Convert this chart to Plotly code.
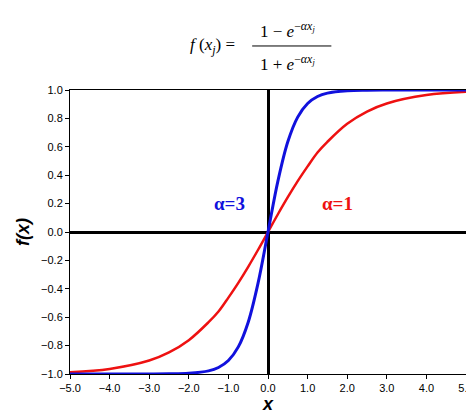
import plotly.graph_objects as go

# sample points
x_vals = [-5.0, -4.0, -3.0, -2.5, -2.0, -1.5, -1.25, -1.0, -0.75, -0.5, -0.25, 0.0,
          0.25, 0.5, 0.75, 1.0, 1.25, 1.5, 2.0, 2.5, 3.0, 4.0, 5.0]
y_alpha1 = [-0.987, -0.964, -0.905, -0.848, -0.762, -0.635, -0.56, -0.462, -0.358, -0.245, -0.125, 0.0,
            0.125, 0.245, 0.358, 0.462, 0.56, 0.635, 0.762, 0.848, 0.905, 0.964, 0.987]
y_alpha3 = [-1.0, -1.0, -1.0, -0.999, -0.995, -0.978, -0.954, -0.905, -0.809, -0.635, -0.358, 0.0,
            0.358, 0.635, 0.809, 0.905, 0.954, 0.978, 0.995, 0.999, 1.0, 1.0, 1.0]
x_ticks = [-5.0, -4.0, -3.0, -2.0, -1.0, 0.0, 1.0, 2.0, 3.0, 4.0, 5.0]
y_ticks = [-1.0, -0.8, -0.6, -0.4, -0.2, 0.0, 0.2, 0.4, 0.6, 0.8, 1.0]

fig = go.Figure()
fig.add_trace(go.Scatter(x=x_vals, y=y_alpha1, mode="lines", line=dict(color="#ee1111", width=2.5, shape="spline")))
fig.add_trace(go.Scatter(x=x_vals, y=y_alpha3, mode="lines", line=dict(color="#1111dd", width=3, shape="spline")))

axis_common = dict(showline=True, mirror=True, linecolor="black", linewidth=1, ticks="outside",
                   ticklen=4, tickcolor="black", showgrid=False, zeroline=True,
                   zerolinecolor="black", zerolinewidth=2.5,
                   tickfont=dict(family="Arial", size=11, color="black"))
fig.update_xaxes(range=[-5, 5], tickvals=x_ticks, tickformat=".1f",
                 title=dict(text="<b><i>x</i></b>", font=dict(family="Arial", size=18, color="black"), standoff=4),
                 **axis_common)
fig.update_yaxes(range=[-1, 1], tickvals=y_ticks, tickformat=".1f",
                 title=dict(text="<b><i>f(x)</i></b>", font=dict(family="Arial", size=18, color="black"), standoff=6),
                 **axis_common)

fig.add_annotation(x=-0.97, y=0.2, text="<b>α=3</b>", showarrow=False,
                   font=dict(family="Liberation Serif", size=19, color="#1111dd"))
fig.add_annotation(x=1.76, y=0.2, text="<b>α=1</b>", showarrow=False,
                   font=dict(family="Liberation Serif", size=19, color="#ee1111"))

# equation header
serif = dict(family="Liberation Serif", size=17, color="black")
fig.add_annotation(xref="paper", yref="paper", x=0.36, y=1.155, text="<i>f</i> (<i>x<sub>j</sub></i>) =",
                   showarrow=False, font=serif, xanchor="center", yanchor="middle")
fig.add_annotation(xref="paper", yref="paper", x=0.55, y=1.21, text="1 − <i>e</i><sup>−<i>αx<sub>j</sub></i></sup>",
                   showarrow=False, font=serif, xanchor="center", yanchor="middle")
fig.add_annotation(xref="paper", yref="paper", x=0.55, y=1.095, text="1 + <i>e</i><sup>−<i>αx<sub>j</sub></i></sup>",
                   showarrow=False, font=serif, xanchor="center", yanchor="middle")
fig.add_shape(type="line", xref="paper", yref="paper", x0=0.46, x1=0.66, y0=1.155, y1=1.155,
              line=dict(color="black", width=1))

fig.update_layout(width=474, height=417, margin=dict(l=62, r=8, t=82, b=51),
                  plot_bgcolor="white", paper_bgcolor="white", showlegend=False)
fig.write_html("out.html")
